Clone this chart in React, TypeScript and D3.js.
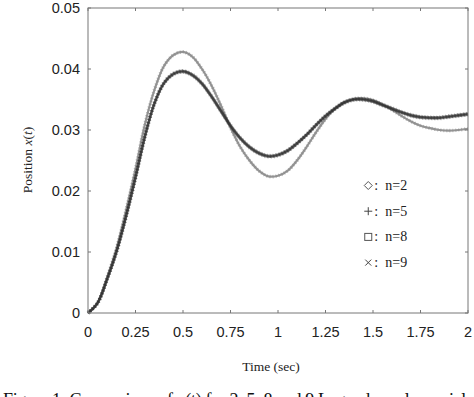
import { useEffect, useRef } from 'react';
import * as d3 from 'd3';

// time samples (sec)
const times = [0, 0.05, 0.1, 0.15, 0.2, 0.25, 0.3, 0.35, 0.4, 0.45, 0.5, 0.55, 0.6, 0.65, 0.7, 0.75, 0.8, 0.85, 0.9, 0.95, 1.0,
    1.05, 1.1, 1.15, 1.2, 1.25, 1.3, 1.35, 1.4, 1.45, 1.5, 1.55, 1.6, 1.65, 1.7, 1.75, 1.8, 1.85, 1.9, 1.95, 2.0];

const xN2 = [0, 0.0017, 0.0058, 0.0106, 0.0168, 0.0236, 0.0310, 0.0366, 0.0405, 0.0423, 0.0428, 0.0420, 0.0400, 0.0373, 0.0340,
    0.0304, 0.0273, 0.0250, 0.0233, 0.0224, 0.0225, 0.0233, 0.0250, 0.0272, 0.0296, 0.0318, 0.0335, 0.0346, 0.0351, 0.0352,
    0.0349, 0.0342, 0.0333, 0.0323, 0.0314, 0.0307, 0.0303, 0.0300, 0.0299, 0.0300, 0.0302];

const xN5 = [0, 0.0016, 0.0055, 0.0100, 0.0158, 0.0222, 0.0290, 0.0344, 0.0377, 0.0392, 0.0396, 0.0390, 0.0376, 0.0355, 0.0331,
    0.0307, 0.0287, 0.0272, 0.0262, 0.0257, 0.0259, 0.0266, 0.0278, 0.0292, 0.0308, 0.0323, 0.0335, 0.0345, 0.0350, 0.0350,
    0.0347, 0.0341, 0.0335, 0.0329, 0.0324, 0.0321, 0.0320, 0.0320, 0.0322, 0.0324, 0.0326];

const xN8 = [0, 0.0016, 0.0055, 0.0101, 0.0159, 0.0223, 0.0291, 0.0345, 0.0378, 0.0393, 0.0397, 0.0391, 0.0377, 0.0356, 0.0332,
    0.0308, 0.0288, 0.0273, 0.0263, 0.0258, 0.0260, 0.0267, 0.0279, 0.0293, 0.0309, 0.0324, 0.0336, 0.0346, 0.0351, 0.0351,
    0.0348, 0.0342, 0.0336, 0.0330, 0.0325, 0.0322, 0.0321, 0.0321, 0.0323, 0.0325, 0.0327];

const xN9 = [0, 0.0016, 0.0054, 0.0100, 0.0157, 0.0221, 0.0289, 0.0343, 0.0376, 0.0391, 0.0395, 0.0389, 0.0375, 0.0354, 0.0330,
    0.0306, 0.0286, 0.0271, 0.0261, 0.0256, 0.0258, 0.0265, 0.0277, 0.0291, 0.0307, 0.0322, 0.0334, 0.0344, 0.0349, 0.0349,
    0.0346, 0.0340, 0.0334, 0.0328, 0.0323, 0.0320, 0.0319, 0.0319, 0.0321, 0.0323, 0.0325];

const xTicks = [0, 0.25, 0.5, 0.75, 1, 1.25, 1.5, 1.75, 2];
const yTicks = [0, 0.01, 0.02, 0.03, 0.04, 0.05];

const legendLabels = ['n=2', 'n=5', 'n=8', 'n=9'];
const legendSymbols = ['diamond', 'plus', 'square', 'cross'];

export default function App() {
    const svgRef = useRef<SVGSVGElement>(null);

    useEffect(() => {
        if (!svgRef.current) return;
        const width = 474;
        const height = 397;
        const margin = { top: 8, right: 6, bottom: 84, left: 88 };
        const w = width - margin.left - margin.right;
        const h = height - margin.top - margin.bottom;

        const svg = d3.select(svgRef.current);
        svg.selectAll("*").remove();

        const x = d3.scaleLinear().domain([0, 2]).range([0, w]);
        const y = d3.scaleLinear().domain([0, 0.05]).range([h, 0]);

        const g = svg.append("g").attr("transform", `translate(${margin.left},${margin.top})`);

        // curves, drawn light first so the darker group sits on top
        const line = d3.line<number>()
            .x((_, i) => x(times[i]))
            .y(d => y(d))
            .curve(d3.curveCatmullRom);

        const series = [
            { values: xN2, color: '#8a8a8a', width: 2.2, op: 0.9 },
            { values: xN9, color: '#3a3a3a', width: 2.4, op: 0.5 },
            { values: xN8, color: '#3a3a3a', width: 2.4, op: 0.5 },
            { values: xN5, color: '#2a2a2a', width: 2.2, op: 0.55 },
        ];
        series.forEach(s => {
            g.append("path")
                .attr("d", line(s.values))
                .attr("fill", "none")
                .attr("stroke", s.color)
                .attr("stroke-width", s.width)
                .attr("stroke-opacity", s.op);
            g.append("path")
                .attr("d", line(s.values))
                .attr("fill", "none")
                .attr("stroke", s.color)
                .attr("stroke-width", s.width + 1.4)
                .attr("stroke-dasharray", "1 2")
                .attr("stroke-opacity", s.op * 0.6);
        });

        // frame
        g.append("rect")
            .attr("width", w).attr("height", h)
            .attr("fill", "none").attr("stroke", "#777").attr("stroke-width", 1);

        // inward ticks on all sides
        xTicks.forEach(t => {
            g.append("line").attr("x1", x(t)).attr("x2", x(t)).attr("y1", h).attr("y2", h - 3).attr("stroke", "#777");
            g.append("line").attr("x1", x(t)).attr("x2", x(t)).attr("y1", 0).attr("y2", 3).attr("stroke", "#777");
            g.append("text")
                .attr("x", x(t)).attr("y", h + 24)
                .attr("text-anchor", "middle")
                .attr("font-family", "Liberation Sans, Arial, sans-serif")
                .attr("font-size", 14.5)
                .attr("fill", "#222")
                .text(d3.format("")(t));
        });
        yTicks.forEach(t => {
            g.append("line").attr("x1", 0).attr("x2", 3).attr("y1", y(t)).attr("y2", y(t)).attr("stroke", "#777");
            g.append("line").attr("x1", w).attr("x2", w - 3).attr("y1", y(t)).attr("y2", y(t)).attr("stroke", "#777");
            g.append("text")
                .attr("x", -8).attr("y", y(t) + 5)
                .attr("text-anchor", "end")
                .attr("font-family", "Liberation Sans, Arial, sans-serif")
                .attr("font-size", 14.5)
                .attr("fill", "#222")
                .text(t === 0 ? "0" : d3.format(".2f")(t));
        });

        // legend
        const lg = g.append("g").attr("transform", `translate(${x(1.475)},${y(0.0209)})`);
        legendLabels.forEach((lab, i) => {
            const row = lg.append("g").attr("transform", `translate(0,${i * 25.7})`);
            const sym = legendSymbols[i];
            if (sym === 'diamond') {
                row.append("path").attr("d", "M0,-4 L4,0 L0,4 L-4,0 Z").attr("fill", "none").attr("stroke", "#555").attr("stroke-width", 1);
            } else if (sym === 'plus') {
                row.append("path").attr("d", "M-4,0 L4,0 M0,-4 L0,4").attr("stroke", "#444").attr("stroke-width", 1);
            } else if (sym === 'square') {
                row.append("rect").attr("x", -3.5).attr("y", -3.5).attr("width", 7).attr("height", 7).attr("fill", "none").attr("stroke", "#555");
            } else {
                row.append("path").attr("d", "M-3,-3 L3,3 M-3,3 L3,-3").attr("stroke", "#444").attr("stroke-width", 1);
            }
            row.append("text")
                .attr("x", 6).attr("y", 4.5)
                .attr("font-family", "Liberation Serif, Times New Roman, serif")
                .attr("font-size", 14)
                .attr("fill", "#222")
                .text(":");
            row.append("text")
                .attr("x", 17).attr("y", 4.5)
                .attr("font-family", "Liberation Serif, Times New Roman, serif")
                .attr("font-size", 14)
                .attr("fill", "#222")
                .text(lab);
        });

        // axis titles
        svg.append("text")
            .attr("x", 271).attr("y", 371)
            .attr("text-anchor", "middle")
            .attr("font-family", "Liberation Serif, Times New Roman, serif")
            .attr("font-size", 13.5)
            .attr("fill", "#222")
            .text("Time (sec)");

        const yl = svg.append("text")
            .attr("transform", "translate(32,160) rotate(-90)")
            .attr("text-anchor", "middle")
            .attr("font-family", "Liberation Serif, Times New Roman, serif")
            .attr("font-size", 13.5)
            .attr("fill", "#222");
        yl.append("tspan").text("Position ");
        yl.append("tspan").attr("font-style", "italic").text("x");
        yl.append("tspan").text("(");
        yl.append("tspan").attr("font-style", "italic").text("t");
        yl.append("tspan").text(")");

        // caption, cut off by the bottom edge as in the scan
        svg.append("text")
            .attr("x", 3).attr("y", 406)
            .attr("textLength", 470)
            .attr("lengthAdjust", "spacing")
            .attr("font-family", "Liberation Serif, Times New Roman, serif")
            .attr("font-size", 18)
            .attr("fill", "#111")
            .text("Figure 1:  Comparison of x(t) for 2, 5, 8 and 9 Legendre polynomials");
    }, []);

    return (
        <svg ref={svgRef} width={474} height={397}
            style={{ position: 'absolute', left: 0, top: 0, background: '#fff' }} />
    );
}
